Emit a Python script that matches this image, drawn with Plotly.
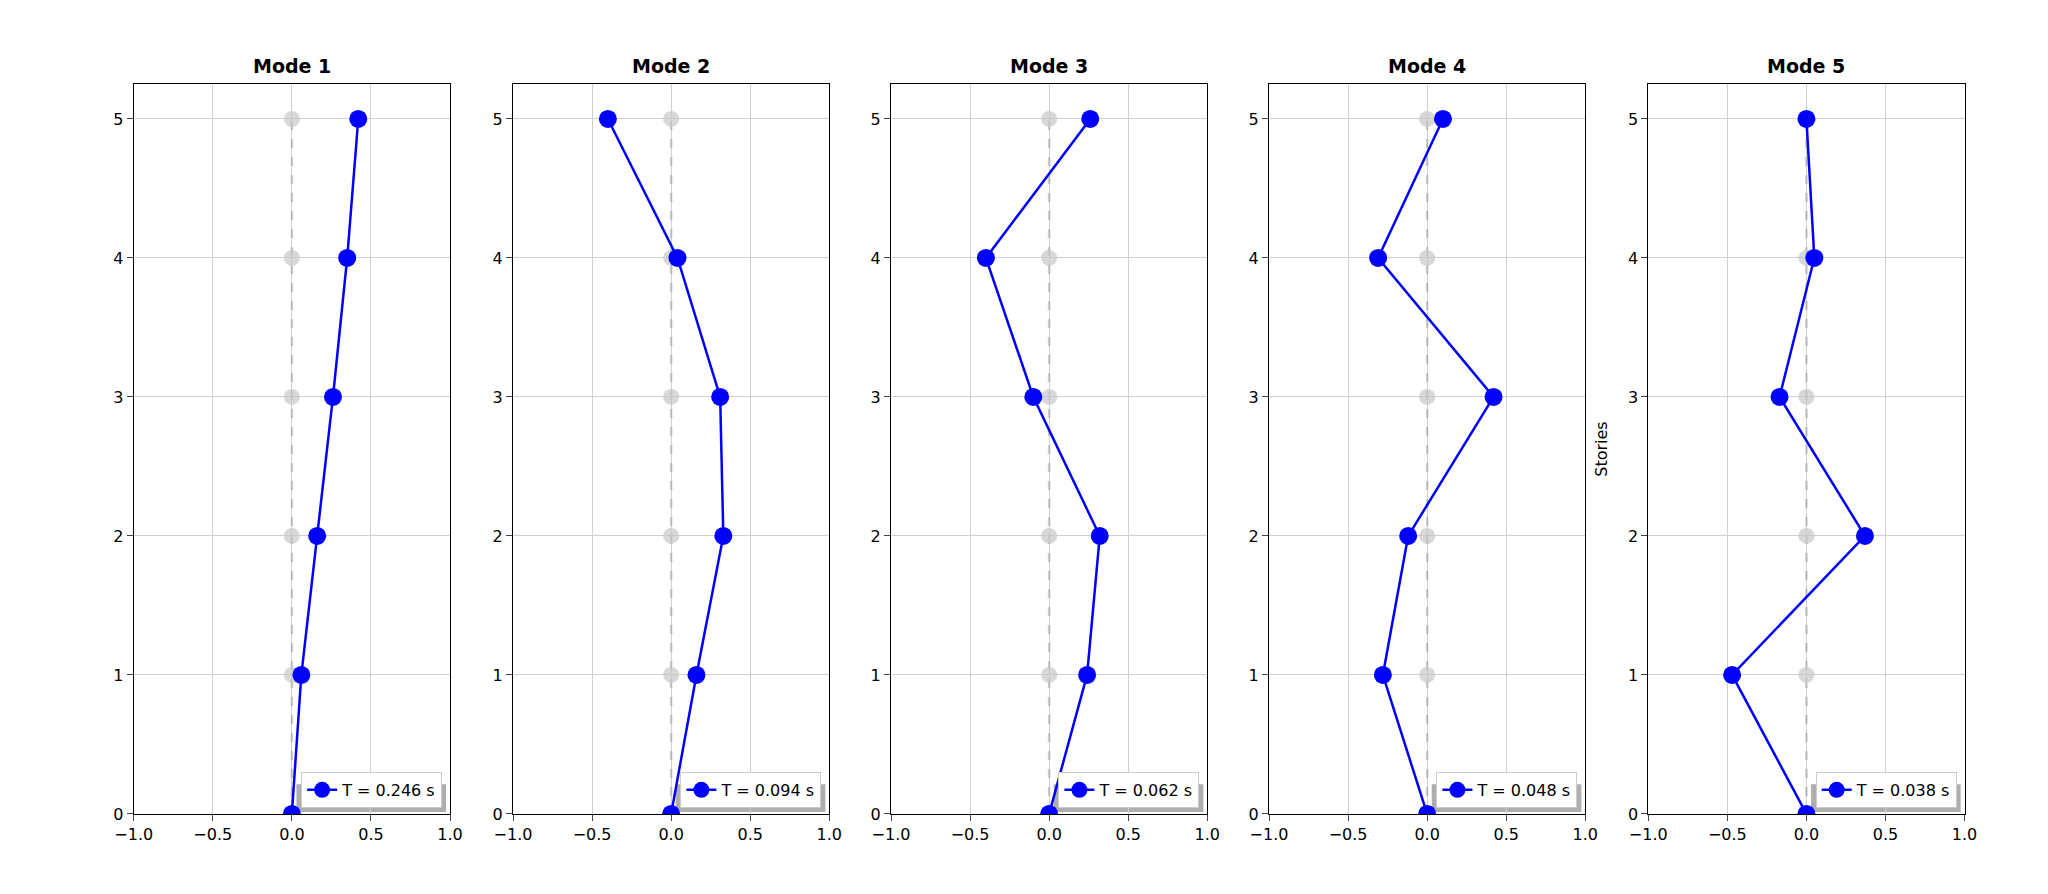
import plotly.graph_objects as go

stories = [0, 1, 2, 3, 4, 5]
modes = ["Mode 1", "Mode 2", "Mode 3", "Mode 4", "Mode 5"]
periods = ["T = 0.246 s", "T = 0.094 s", "T = 0.062 s", "T = 0.048 s", "T = 0.038 s"]
shape1 = [0, 0.06, 0.16, 0.26, 0.35, 0.42]
shape2 = [0, 0.16, 0.33, 0.31, 0.04, -0.40]
shape3 = [0, 0.24, 0.32, -0.10, -0.40, 0.26]
shape4 = [0, -0.28, -0.12, 0.42, -0.31, 0.10]
shape5 = [0, -0.47, 0.37, -0.17, 0.05, 0.0]
shapes = [shape1, shape2, shape3, shape4, shape5]
undeformed = [0, 0, 0, 0, 0, 0]
xticks = [-1.0, -0.5, 0.0, 0.5, 1.0]

W, H = 2048, 894
S = 2048 / 1568
lefts = [83 * S, 378 * S, 672 * S, 966 * S, 1261 * S]
pw = 246 * S
ytop, ybot = 59 * S, 624 * S

fig = go.Figure()
layout = dict(width=W, height=H, margin=dict(l=0, r=0, t=0, b=0),
              plot_bgcolor="white", paper_bgcolor="white",
              font=dict(family="DejaVu Sans", size=16, color="black"),
              annotations=[], shapes=[])
for i in range(5):
    xa = "x" if i == 0 else f"x{i+1}"
    ya = "y" if i == 0 else f"y{i+1}"
    lg = "legend" if i == 0 else f"legend{i+1}"
    fig.add_trace(go.Scatter(x=undeformed, y=stories, mode="lines+markers", xaxis=xa, yaxis=ya,
                             line=dict(color="rgba(170,170,170,0.6)", dash="dash", width=2.5),
                             marker=dict(size=16, color="rgba(200,200,200,0.7)"),
                             showlegend=False, hoverinfo="skip"))
    fig.add_trace(go.Scatter(x=shapes[i], y=stories, mode="lines+markers", xaxis=xa, yaxis=ya,
                             line=dict(color="blue", width=2.5), marker=dict(size=18, color="blue"),
                             name=periods[i], legend=lg))
    x0 = lefts[i] / W
    x1 = (lefts[i] + pw) / W
    axx = dict(domain=[x0, x1], range=[-1, 1], tickvals=xticks, ticktext=[f"{v:.1f}".replace("-", "−") for v in xticks],
               showgrid=True, gridcolor="#cfcfcf", zeroline=False, showline=True, linecolor="black",
               mirror=True, ticks="outside", ticklen=6, anchor=ya, tickfont=dict(size=16))
    axy = dict(domain=[1 - ybot / H, 1 - ytop / H], range=[0, 5.25], tickvals=stories,
               showgrid=True, gridcolor="#cfcfcf", zeroline=False, showline=True, linecolor="black",
               mirror=True, ticks="outside", ticklen=6, anchor=xa, tickfont=dict(size=16))
    if i == 4:
        axy["title"] = dict(text="Stories", font=dict(size=16), standoff=16)
    layout["xaxis" if i == 0 else f"xaxis{i+1}"] = axx
    layout["yaxis" if i == 0 else f"yaxis{i+1}"] = axy
    layout[lg] = dict(x=x1 - 8 / W, y=1 - ybot / H + 6 / H, xanchor="right", yanchor="bottom",
                      bgcolor="white", bordercolor="#cccccc", borderwidth=1, font=dict(size=16),
                      itemwidth=30, tracegroupgap=0)
    layout["shapes"].append(dict(type="rect", xref="paper", yref="paper",
                                 x0=x1 - 156 / W, x1=x1 - 4 / W, y0=1 - (ybot - 2) / H, y1=1 - (ybot - 30) / H,
                                 fillcolor="rgba(120,120,120,0.6)", line=dict(width=0), layer="below"))
    layout["annotations"].append(dict(text=f"<b>{modes[i]}</b>", x=(x0 + x1) / 2, y=1 - ytop / H,
                                      xref="paper", yref="paper", xanchor="center", yanchor="bottom",
                                      yshift=5, showarrow=False, font=dict(size=19)))
fig.update_layout(**layout)
fig.write_html("out.html")
